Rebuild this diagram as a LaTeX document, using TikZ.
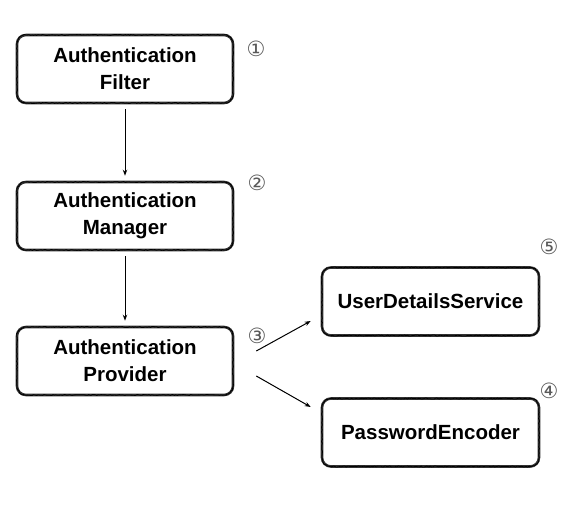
\documentclass[tikz,border=0pt]{standalone}
\usepackage{fontspec}
\setmainfont{Liberation Sans}
\newfontfamily\symfont{DejaVu Sans}
\usetikzlibrary{arrows.meta,decorations.pathmorphing,calc}
\begin{document}
\begin{tikzpicture}[x=1pt,y=-1pt,
  box/.style={rectangle, rounded corners=9pt, minimum width=216pt, minimum height=68pt,
    draw=black!80, line width=2.6pt, align=center, inner sep=0pt,
    font=\bfseries\fontsize{20.5}{27}\selectfont,
    postaction={draw=black, line width=0.8pt, sharp corners, decorate,
      decoration={random steps,segment length=1.5pt,amplitude=0.5pt}}},
  conn/.style={-{Stealth[length=6pt,width=4.5pt]}, line width=1pt, black},
  num/.style={font=\symfont\fontsize{21}{21}\selectfont, text=black!65, inner sep=0pt}]
\useasboundingbox (0,0) rectangle (578,521);
\node[box] (f) at (125,69) {Authentication\\Filter};
\node[box] (m) at (125,216) {Authentication\\Manager};
\node[box] (p) at (125,361) {Authentication\\Provider};
\node[box, minimum width=217pt] (u) at (430.5,301.5) {UserDetailsService};
\node[box, minimum width=217pt] (e) at (430.5,432.5) {PasswordEncoder};
\node[num] (n1) at (256,49) {①};
\node[num] (n2) at (257,183) {②};
\node[num] (n3) at (257,336) {③};
\node[num] (n5) at (549,247) {⑤};
\node[num] (n4) at (549,391) {④};
\draw[conn, shorten <=5pt, shorten >=5pt] (f.south) -- (m.north);
\draw[conn, shorten <=5pt, shorten >=5pt] (m.south) -- (p.north);
\draw[conn] ($(p.east)+(22,-10)$) -- ($(u.west)+(-10,19.5)$);
\draw[conn] ($(p.east)+(22,15)$) -- ($(e.west)+(-10,-25.5)$);
\end{tikzpicture}
\end{document}
